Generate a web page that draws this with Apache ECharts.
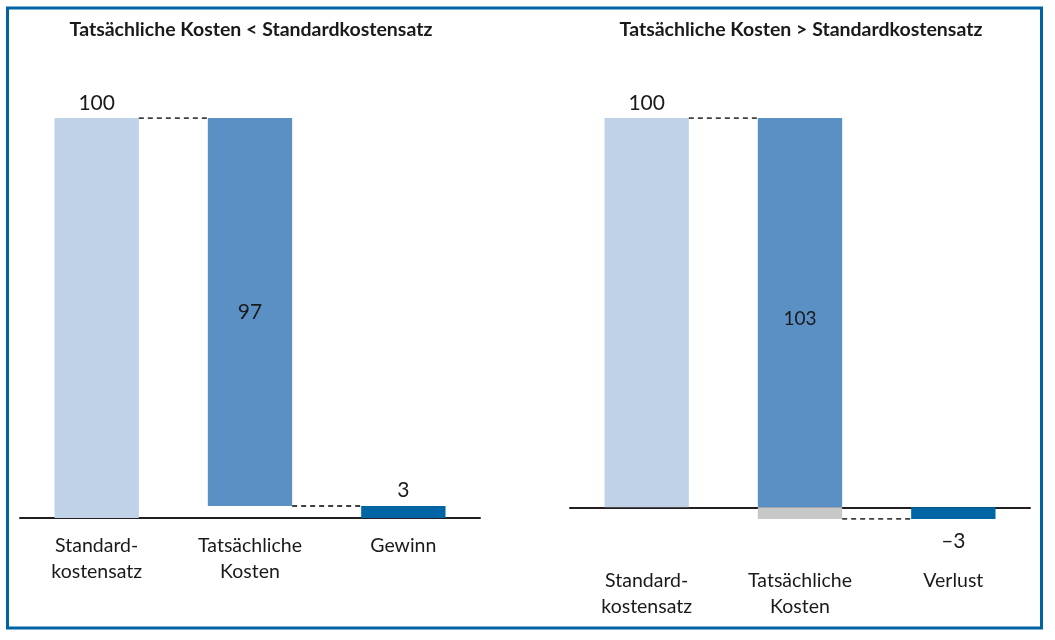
<!DOCTYPE html>
<html>
<head>
<meta charset="utf-8">
<script src="https://cdn.jsdelivr.net/npm/echarts@6/dist/echarts.min.js"></script>
<style>html,body{margin:0;padding:0;background:#fff}#c{width:1055px;height:640px}</style>
</head>
<body>
<div id="c"></div>
<script>
// ---- data ----
const titleLeft = 'Tatsächliche Kosten < Standardkostensatz';
const titleRight = 'Tatsächliche Kosten > Standardkostensatz';
const categoriesLeft = ['Standard-\nkostensatz', 'Tatsächliche\nKosten', 'Gewinn'];
const categoriesRight = ['Standard-\nkostensatz', 'Tatsächliche\nKosten', 'Verlust'];
const valuesLeft = [100, 97, 3];      // standard, actual, profit
const valuesRight = [100, 103, -3];   // standard, actual, loss

// ---- style ----
const FONT = 'Lato, "Noto Sans", sans-serif';
const TXT = '#1a1a1a';
const C_LIGHT = '#bfd2e8';
const C_MID = '#5a90c3';
const C_DARK = '#0065a5';
const C_GRAY = '#c8c8c8';
const BW = 0.55; // bar width fraction of category

function fmt(v) { return v < 0 ? '\u2013' + Math.abs(v) : String(v); }

// left waterfall pieces
const leftBase = [0, valuesLeft[0] - valuesLeft[1], 0];
// right waterfall pieces
const rightAbove = valuesRight[0];
const rightBelow = valuesRight[0] - valuesRight[1];

const half = BW / 2;
const dashStyle = { color: '#000', width: 1.3, type: [5, 4] };

const chart = echarts.init(document.getElementById('c'), null, { renderer: 'canvas' });
const catAxisCommon = {
  type: 'category',
  axisTick: { show: false },
  axisLine: { lineStyle: { color: '#231f20', width: 2 } },
  axisLabel: { interval: 0, color: TXT, fontFamily: FONT, fontSize: 19.5, lineHeight: 26 }
};
const hiddenVal = { type: 'value', min: -0.5, max: 2.5, show: false };

chart.setOption({
  animation: false,
  title: [
    { text: titleLeft, left: 251, top: 20, textAlign: 'center', padding: 0,
      textStyle: { fontFamily: FONT, fontWeight: 'bold', fontSize: 19.5, color: TXT } },
    { text: titleRight, left: 801, top: 20, textAlign: 'center', padding: 0,
      textStyle: { fontFamily: FONT, fontWeight: 'bold', fontSize: 19.5, color: TXT } }
  ],
  graphic: [{
    type: 'rect', shape: { x: 7.5, y: 8, width: 1034, height: 620 },
    style: { fill: 'none', stroke: '#0063a3', lineWidth: 3 }, silent: true
  }],
  grid: [
    { left: 20, width: 460, top: 118, height: 400 },
    { left: 570, width: 460, top: 118, height: 401 }
  ],
  xAxis: [
    Object.assign({}, catAxisCommon, { gridIndex: 0, data: categoriesLeft,
      axisLabel: Object.assign({}, catAxisCommon.axisLabel, { margin: 15 }) }),
    Object.assign({ gridIndex: 0 }, hiddenVal),
    Object.assign({}, catAxisCommon, { gridIndex: 1, data: categoriesRight,
      axisLine: Object.assign({ onZero: true }, catAxisCommon.axisLine),
      axisLabel: Object.assign({}, catAxisCommon.axisLabel, { margin: 49 }) }),
    Object.assign({ gridIndex: 1 }, hiddenVal)
  ],
  yAxis: [
    { type: 'value', gridIndex: 0, min: 0, max: 100, show: false },
    { type: 'value', gridIndex: 1, min: valuesRight[2], max: 100, show: false }
  ],
  series: [
    // left panel
    { type: 'bar', xAxisIndex: 0, yAxisIndex: 0, stack: 'L', barWidth: (BW * 100) + '%',
      silent: true, itemStyle: { color: 'transparent' }, data: leftBase },
    { type: 'bar', xAxisIndex: 0, yAxisIndex: 0, stack: 'L', barWidth: (BW * 100) + '%',
      label: { show: true, fontFamily: FONT, fontSize: 21, color: TXT, formatter: p => fmt(p.value) },
      data: [
        { value: valuesLeft[0], itemStyle: { color: C_LIGHT }, label: { position: 'top', distance: 4 } },
        { value: valuesLeft[1], itemStyle: { color: C_MID }, label: { position: 'inside' } },
        { value: valuesLeft[2], itemStyle: { color: C_DARK }, label: { position: 'top', distance: 5 } }
      ] },
    { type: 'line', xAxisIndex: 1, yAxisIndex: 0, symbol: 'none', silent: true, lineStyle: dashStyle,
      data: [[0 + half, valuesLeft[0]], [1 - half, valuesLeft[0]]] },
    { type: 'line', xAxisIndex: 1, yAxisIndex: 0, symbol: 'none', silent: true, lineStyle: dashStyle,
      data: [[1 + half, leftBase[1]], [2 - half, leftBase[1]]] },
    // right panel
    { type: 'bar', xAxisIndex: 2, yAxisIndex: 1, stack: 'R', barWidth: (BW * 100) + '%',
      label: { show: true, fontFamily: FONT, fontSize: 21, color: TXT },
      data: [
        { value: valuesRight[0], itemStyle: { color: C_LIGHT },
          label: { position: 'top', distance: 4, formatter: fmt(valuesRight[0]) } },
        { value: rightAbove, itemStyle: { color: C_MID },
          label: { position: 'inside', fontSize: 19, offset: [0, 6], formatter: fmt(valuesRight[1]) } },
        { value: valuesRight[2], itemStyle: { color: C_DARK },
          label: { position: 'bottom', distance: 12, formatter: fmt(valuesRight[2]) } }
      ] },
    { type: 'bar', xAxisIndex: 2, yAxisIndex: 1, stack: 'R', barWidth: (BW * 100) + '%',
      itemStyle: { color: C_GRAY }, data: ['-', rightBelow, '-'] },
    { type: 'line', xAxisIndex: 3, yAxisIndex: 1, symbol: 'none', silent: true, lineStyle: dashStyle,
      data: [[0 + half, valuesRight[0]], [1 - half, valuesRight[0]]] },
    { type: 'line', xAxisIndex: 3, yAxisIndex: 1, symbol: 'none', silent: true, lineStyle: dashStyle,
      data: [[1 + half, valuesRight[2]], [2 - half, valuesRight[2]]] }
  ]
});
</script>
</body>
</html>
